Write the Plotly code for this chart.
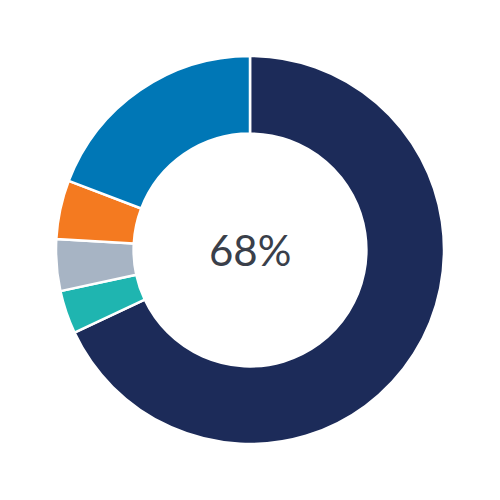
import plotly.graph_objects as go

labels = ["A", "B", "C", "D", "E"]
values = [68, 3.6, 4.3, 4.9, 19.2]
colors = ["#1c2b59", "#1fb5b0", "#a7b4c4", "#f47a20", "#0077b6"]
center_text = "68%"

fig = go.Figure(go.Pie(
    labels=labels, values=values, hole=0.6, sort=False, direction="clockwise",
    rotation=0, marker=dict(colors=colors, line=dict(color="white", width=2.5)),
    textinfo="none", hoverinfo="label+percent",
))
fig.add_annotation(text=center_text, x=0.5, y=0.5, xref="paper", yref="paper",
                   showarrow=False, font=dict(family="Lato", size=42, color="#3a3f4a"))
fig.update_layout(width=500, height=500, showlegend=False,
                  margin=dict(l=48, r=64, t=48, b=64),
                  paper_bgcolor="white", plot_bgcolor="white")
fig.write_html("out.html")
